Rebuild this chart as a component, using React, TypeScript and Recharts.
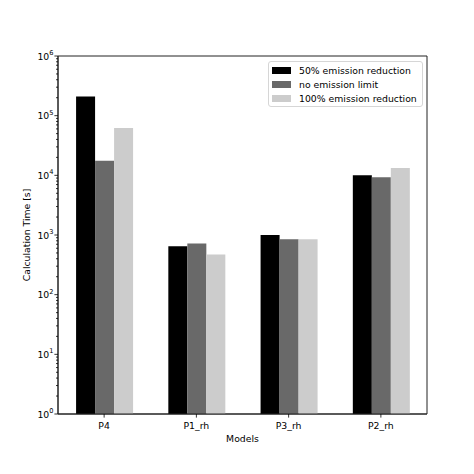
import React from 'react';
import { BarChart, Bar, XAxis, YAxis, ReferenceArea } from 'recharts';

const models = ['P4', 'P1_rh', 'P3_rh', 'P2_rh'];
const reduction50 = [210000, 650, 1000, 10000];
const noLimit = [17500, 720, 850, 9300];
const reduction100 = [62000, 470, 850, 13300];

const seriesNames = ['50% emission reduction', 'no emission limit', '100% emission reduction'];
const seriesKeys = ['r50', 'none', 'r100'];
const seriesColors = ['#000000', '#696969', '#cccccc'];

const majorTicks = [1, 10, 100, 1000, 10000, 100000, 1000000];
const minorMultipliers = [2, 3, 4, 5, 6, 7, 8, 9];

const allTicks: number[] = [];
majorTicks.forEach((m, i) => {
  allTicks.push(m);
  if (i < majorTicks.length - 1) minorMultipliers.forEach((k) => allTicks.push(m * k));
});

const data = models.map((model, i) => ({
  model,
  r50: reduction50[i],
  none: noLimit[i],
  r100: reduction100[i],
}));

const FONT = 'DejaVu Sans';
const FS = 9.3;
const FRAME = '#222';

const YTick = (props: any) => {
  const { x, y, payload } = props;
  const v = payload.value as number;
  const lg = Math.log10(v);
  const exp = Math.round(lg);
  const major = Math.abs(lg - exp) < 1e-9;
  return (
    <g>
      <line x1={x} x2={x - (major ? 3.6 : 2)} y1={y} y2={y} stroke="#000" strokeWidth={0.8} />
      {major && (
        <text x={x - 4.5} y={y + 3.5} textAnchor="end" fontFamily={FONT} fontSize={FS} fill="#000">
          10
          <tspan dy={-4.5} fontSize={6.6}>{exp}</tspan>
        </text>
      )}
    </g>
  );
};

const XTick = (props: any) => {
  const { x, y, payload } = props;
  return (
    <g>
      <line x1={x} x2={x} y1={y} y2={y + 3.6} stroke="#000" strokeWidth={0.8} />
      <text x={x} y={y + 14.5} textAnchor="middle" fontFamily={FONT} fontSize={FS} fill="#000">
        {payload.value}
      </text>
    </g>
  );
};

export default function App() {
  return (
    <div style={{ position: 'absolute', left: 0, top: 0, width: 474, height: 474, background: '#fff' }}>
      <BarChart
        width={474}
        height={474}
        data={data}
        margin={{ top: 56, right: 47, bottom: 0, left: 0 }}
        barCategoryGap="19.6%"
        barGap={0}
      >
        <XAxis
          dataKey="model"
          height={60}
          tickSize={0}
          tickMargin={0}
          tickLine={false}
          axisLine={{ stroke: FRAME, strokeWidth: 1 }}
          tick={<XTick />}
          interval={0}
          label={{ value: 'Models', position: 'insideTop', offset: 21, style: { fontFamily: FONT, fontSize: FS, fill: '#000' } }}
        />
        <YAxis
          type="number"
          scale="log"
          domain={[1, 1000000]}
          ticks={allTicks}
          interval={0}
          width={58}
          tickSize={0}
          tickMargin={0}
          tickLine={false}
          axisLine={{ stroke: FRAME, strokeWidth: 1 }}
          tick={<YTick />}
          allowDataOverflow
          label={{
            value: 'Calculation Time [s]',
            angle: -90,
            position: 'insideLeft',
            offset: 27,
            style: { textAnchor: 'middle', fontFamily: FONT, fontSize: FS, fill: '#000' },
          }}
        />
        {seriesKeys.map((k, i) => (
          <Bar key={k} dataKey={k} name={seriesNames[i]} fill={seriesColors[i]} isAnimationActive={false} />
        ))}
        <ReferenceArea
          x1={models[0]}
          x2={models[models.length - 1]}
          y1={majorTicks[0]}
          y2={majorTicks[majorTicks.length - 1]}
          fill="none"
          fillOpacity={0}
          stroke={FRAME}
          strokeWidth={1}
          ifOverflow="visible"
        />
      </BarChart>
      <div
        style={{
          position: 'absolute',
          left: 268,
          top: 61,
          width: 153,
          height: 44,
          border: '1px solid #d6d6d6',
          borderRadius: 3,
          background: 'rgba(255,255,255,0.8)',
          fontFamily: FONT,
          fontSize: FS,
          color: '#000',
        }}
      >
        {seriesNames.map((n, i) => (
          <div key={n} style={{ position: 'absolute', left: 3, top: 1.5 + i * 14, height: 14, display: 'flex', alignItems: 'center', whiteSpace: 'nowrap' }}>
            <span style={{ display: 'inline-block', width: 19, height: 6.5, background: seriesColors[i], marginRight: 8 }} />
            <span>{n}</span>
          </div>
        ))}
      </div>
    </div>
  );
}
